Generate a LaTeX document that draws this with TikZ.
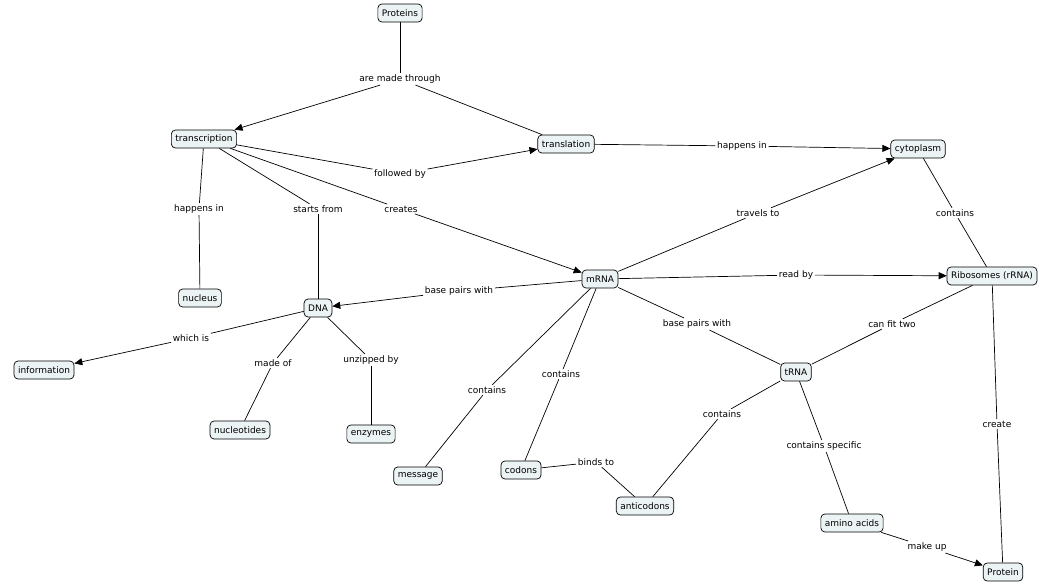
\documentclass[tikz,border=0pt]{standalone}
\usepackage{fontspec}
\setmainfont{DejaVu Sans}
\usetikzlibrary{arrows.meta}
\begin{document}
\begin{tikzpicture}[x=1pt,y=-1pt,
  concept/.style={draw=black,line width=0.7pt,rounded corners=4pt,fill={rgb,255:red,236;green,243;blue,244},font=\fontsize{9}{10}\selectfont,inner sep=4pt,minimum height=18pt},
  lab/.style={fill=white,inner sep=1.5pt,font=\fontsize{9}{10}\selectfont},
  ln/.style={line width=0.7pt},
  ar/.style={line width=0.7pt,-{Triangle[length=8pt,width=7pt]}}]
\useasboundingbox (0,0) rectangle (1058,587);
\node[concept] (proteins) at (400,13) {Proteins};
\node[concept] (transcription) at (204,139) {transcription};
\node[concept] (translation) at (566,144) {translation};
\node[concept] (cytoplasm) at (918,149) {cytoplasm};
\node[concept] (nucleus) at (200,298) {nucleus};
\node[concept] (dna) at (318,308) {DNA};
\node[concept] (mrna) at (600,279) {mRNA};
\node[concept] (ribo) at (992,276) {Ribosomes (rRNA)};
\node[concept] (info) at (44,370) {information};
\node[concept] (nucleotides) at (240,430) {nucleotides};
\node[concept] (enzymes) at (371,434) {enzymes};
\node[concept] (message) at (418,476) {message};
\node[concept] (codons) at (521,470) {codons};
\node[concept] (anticodons) at (645,506) {anticodons};
\node[concept] (trna) at (796,372) {tRNA};
\node[concept] (amino) at (852,523) {amino acids};
\node[concept] (protein) at (1003,572) {Protein};

\node[lab] (l1) at (400,79) {are made through};
\node[lab] (l2) at (400,174) {followed by};
\node[lab] (l3) at (199,209) {happens in};
\node[lab] (l4) at (318,209) {starts from};
\node[lab] (l5) at (401,209) {creates};
\node[lab] (l6) at (742,146) {happens in};
\node[lab] (l7) at (955,213) {contains};
\node[lab] (l8) at (758,213) {travels to};
\node[lab] (l9) at (796,275) {read by};
\node[lab] (l10) at (459,291) {base pairs with};
\node[lab] (l11) at (697,324) {base pairs with};
\node[lab] (l12) at (487,390) {contains};
\node[lab] (l13) at (561,374) {contains};
\node[lab] (l14) at (191,338) {which is};
\node[lab] (l15) at (273,363) {made of};
\node[lab] (l16) at (371,360) {unzipped by};
\node[lab] (l17) at (596,462) {binds to};
\node[lab] (l18) at (722,414) {contains};
\node[lab] (l19) at (824,446) {contains specific};
\node[lab] (l20) at (892,324) {can fit two};
\node[lab] (l21) at (997,424) {create};
\node[lab] (l22) at (927,547) {make up};

\draw[ln] (proteins) -- (l1);
\draw[ar] (l1) -- (transcription);
\draw[ln] (l1) -- (translation);
\draw[ln] (transcription) -- (l2); \draw[ar] (l2) -- (translation);
\draw[ln] (transcription) -- (l3); \draw[ln] (l3) -- (nucleus);
\draw[ln] (transcription) -- (l4); \draw[ln] (l4) -- (dna);
\draw[ln] (transcription) -- (l5); \draw[ar] (l5) -- (mrna);
\draw[ln] (translation) -- (l6); \draw[ar] (l6) -- (cytoplasm);
\draw[ln] (cytoplasm) -- (l7); \draw[ln] (l7) -- (ribo);
\draw[ln] (mrna) -- (l8); \draw[ar] (l8) -- (cytoplasm);
\draw[ln] (mrna) -- (l9); \draw[ar] (l9) -- (ribo);
\draw[ln] (mrna) -- (l10); \draw[ar] (l10) -- (dna);
\draw[ln] (mrna) -- (l11); \draw[ln] (l11) -- (trna);
\draw[ln] (mrna) -- (l12); \draw[ln] (l12) -- (message);
\draw[ln] (mrna) -- (l13); \draw[ln] (l13) -- (codons);
\draw[ln] (dna) -- (l14); \draw[ar] (l14) -- (info);
\draw[ln] (dna) -- (l15); \draw[ln] (l15) -- (nucleotides);
\draw[ln] (dna) -- (l16); \draw[ln] (l16) -- (enzymes);
\draw[ln] (codons) -- (l17); \draw[ln] (l17) -- (anticodons);
\draw[ln] (trna) -- (l18); \draw[ln] (l18) -- (anticodons);
\draw[ln] (trna) -- (l19); \draw[ln] (l19) -- (amino);
\draw[ln] (ribo) -- (l20); \draw[ln] (l20) -- (trna);
\draw[ln] (ribo) -- (l21); \draw[ln] (l21) -- (protein);
\draw[ln] (amino) -- (l22); \draw[ar] (l22) -- (protein);
\end{tikzpicture}
\end{document}
